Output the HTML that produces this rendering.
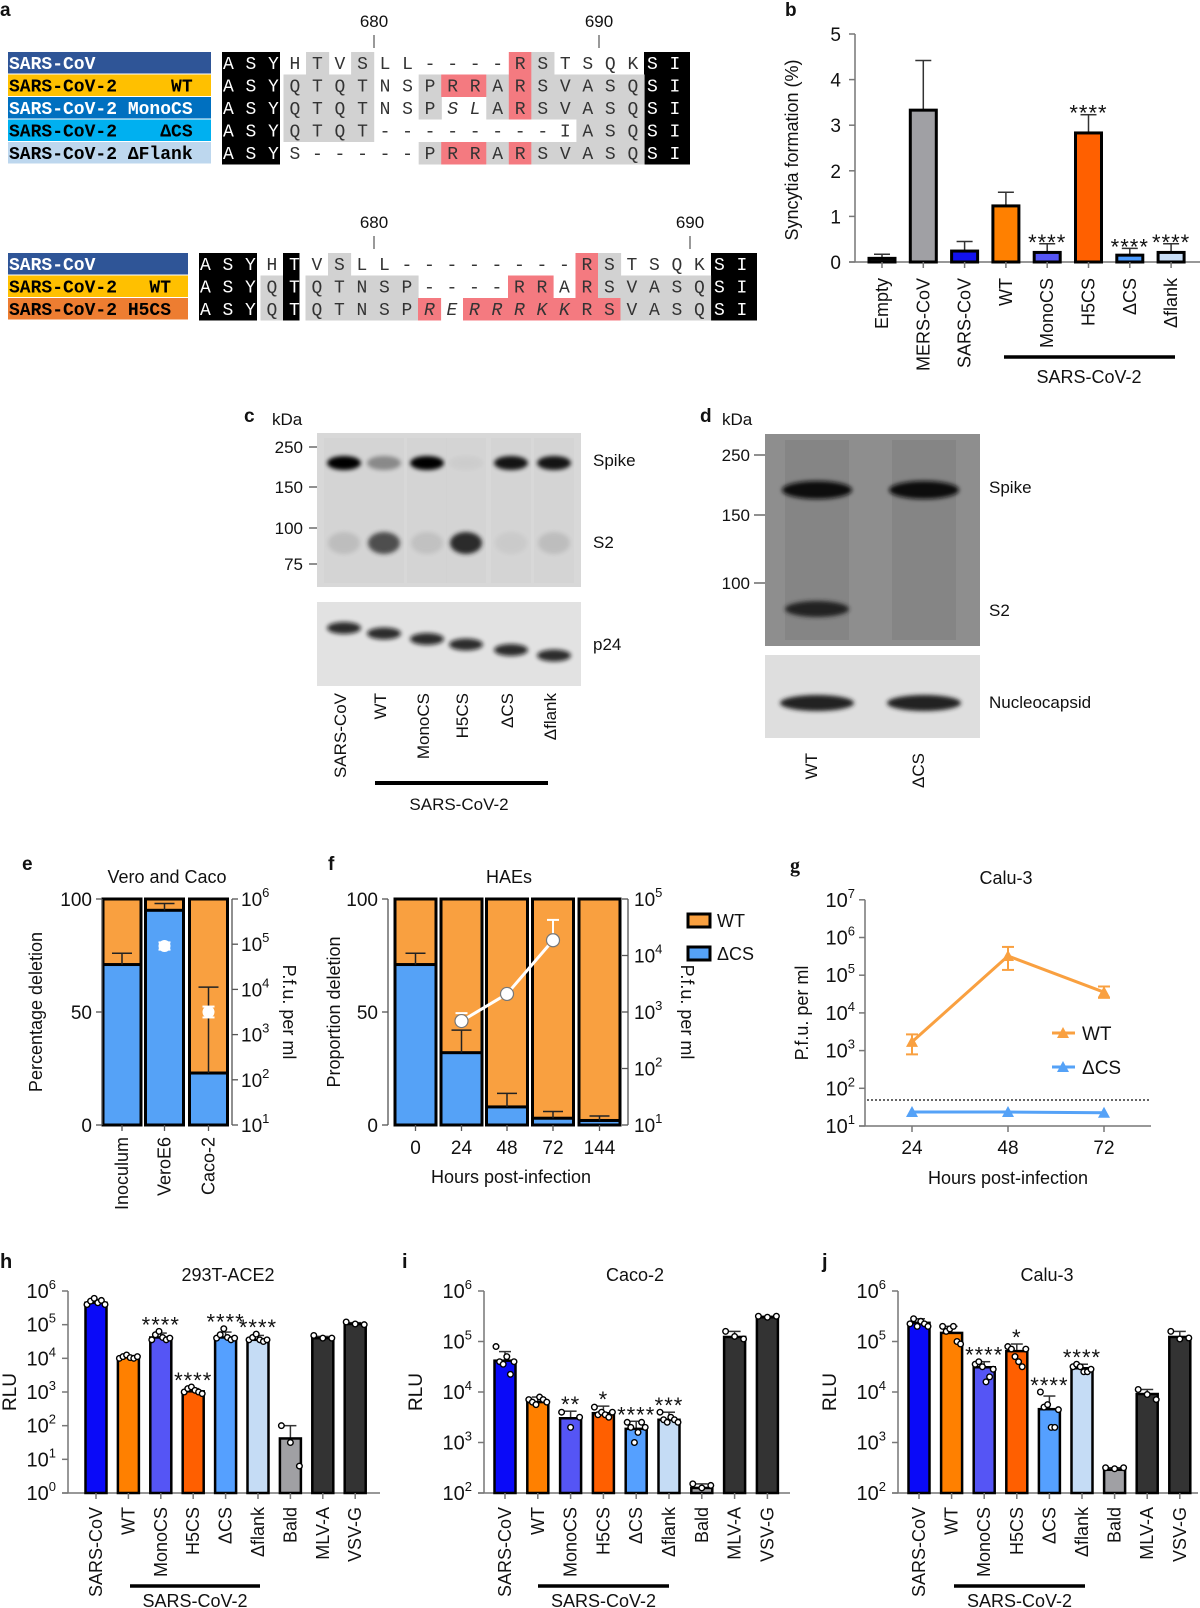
<!DOCTYPE html>
<html><head><meta charset="utf-8"><title>Figure</title>
<style>
html,body{margin:0;padding:0;background:#fff;}
svg{display:block;font-family:"Liberation Sans",Arial,sans-serif;}
.mono{font-family:"Liberation Mono","DejaVu Sans Mono",monospace;white-space:pre;}
.nar{font-family:"Liberation Sans Narrow","Liberation Sans",sans-serif;}
</style></head>
<body>
<svg id="fig" width="1200" height="1608" viewBox="0 0 1200 1608" xmlns="http://www.w3.org/2000/svg">
<defs>
<filter id="blur2" x="-50%" y="-100%" width="200%" height="300%"><feGaussianBlur stdDeviation="2.2"/></filter>
<filter id="blur4" x="-50%" y="-100%" width="200%" height="300%"><feGaussianBlur stdDeviation="4"/></filter>
</defs>
</svg>
<script>
// ---------- DATA ----------
// panel b
const bCats=['Empty','MERS-CoV','SARS-CoV','WT','MonoCS','H5CS','\u0394CS','\u0394flank'];
const bVals=[0.08,3.33,0.24,1.23,0.21,2.83,0.15,0.21];
const bErr=[0.17,4.42,0.45,1.53,0.40,3.23,0.30,0.40];
const bStars=['','','','','****','****','****','****'];
const bTicks=[0,1,2,3,4,5];
// panel e
const eCats=['Inoculum','VeroE6','Caco-2'];
const eDel=[71,95,23];
const eDelErr=[76,98,61];
const ePfu=[null,4.96,3.5];
const ePfuErr=[0,0.08,0.12];
// panel f
const fCats=['0','24','48','72','144'];
const fDel=[71,32,8,3,2];
const fDelErr=[76,42,14,6,4];
const fPfu=[null,2.84,3.32,4.27,null];
const fPfuHi=[null,2.98,3.38,4.63,null];
// panel g
const gX=[24,48,72];
const gWT=[3.23,5.51,4.55];
const gWTlo=[2.9,5.14,4.4];
const gWThi=[3.43,5.75,4.7];
const gCS=[1.37,1.37,1.35];
const gLOD=1.69;
// panels h,i,j (log10 RLU)
const rCats=['SARS-CoV','WT','MonoCS','H5CS','\u0394CS','\u0394flank','Bald','MLV-A','VSV-G'];
const hVals=[5.65,4.03,4.62,3.02,4.62,4.55,1.62,4.6,5.02];
const hErr=[5.75,4.08,4.75,3.1,4.78,4.68,2.0,4.65,5.06];
const hStars=['','','****','****','****','****','','',''];
const hPts=[[5.6,5.7,5.78,5.65,5.72,5.6],[4.0,4.05,4.1,4.02,4.0,4.05],[4.55,4.7,4.8,4.62,4.55,4.6],[3.0,3.1,3.15,3.05,3.0,2.95],[4.6,4.7,4.88,4.62,4.55,4.6],[4.55,4.62,4.72,4.55,4.5,4.55],[2.0,1.5,0.8],[4.68,4.6,4.6],[5.08,5.02,5.0]];
const iVals=[4.62,3.8,3.48,3.58,3.27,3.45,2.1,5.09,5.48];
const iErr=[4.8,3.9,3.62,3.72,3.42,3.6,2.18,5.2,5.5];
const iStars=['','','**','*','****','***','','',''];
const iPts=[[4.9,4.6,4.55,4.7,4.35,4.6],[3.85,3.8,3.75,3.9,3.85,3.8],[3.6,3.3,3.5],[3.7,3.55,3.6,3.55,3.5,3.6],[3.4,3.3,3.0,3.2,3.4,3.3],[3.6,3.45,3.4,3.5,3.45,3.4],[2.18,2.1,2.15],[5.2,5.1,5.05],[5.5,5.48,5.5]];
const jVals=[5.37,5.17,4.49,4.81,3.66,4.47,2.46,3.96,5.09];
const jErr=[5.45,5.3,4.6,4.95,3.92,4.55,2.5,4.05,5.2];
const jStars=['','','****','*','****','****','','',''];
const jPts=[[5.35,5.45,5.3,5.4,5.35,5.3],[5.3,5.2,5.25,5.3,5.0,4.95],[4.55,4.6,4.5,4.2,4.3,4.45],[4.9,4.85,4.7,4.6,4.5,4.85],[4.0,3.7,3.75,3.3,3.3,3.65],[4.5,4.55,4.5,4.4,4.4,4.45],[2.5,2.48,2.5],[4.05,3.95,3.85],[5.2,5.05,5.07]];
const rColors=['#0a0af8','#ff8000','#5555f5','#ff5f00','#55a0ff','#c5dcf5','#a0a0a4','#333333','#333333'];

// ---------- HELPERS ----------
const NS='http://www.w3.org/2000/svg';
const svg=document.getElementById('fig');
function mk(tag,a,p){const e=document.createElementNS(NS,tag);for(const k in a)e.setAttribute(k,a[k]);(p||svg).appendChild(e);return e;}
function tx(x,y,s,a,p){const e=mk('text',Object.assign({x:x,y:y,'font-size':17,fill:'#111'},a||{}),p);e.textContent=s;return e;}
function grp(p){return mk('g',{},p);}
function logLbl(x,y,ex,p,cls){const t=mk('text',{x:x,y:y+7,'text-anchor':'end','font-size':20,fill:'#111'},p);if(cls)t.setAttribute('class',cls);t.appendChild(document.createTextNode('10'));const s=mk('tspan',{dy:-9,'font-size':13},t);s.textContent=ex;return t;}
function logLblL(x,y,ex,p,cls){const t=mk('text',{x:x,y:y+7,'text-anchor':'start','font-size':19,fill:'#111'},p);if(cls)t.setAttribute('class',cls);t.appendChild(document.createTextNode('10'));const s=mk('tspan',{dy:-9,'font-size':13},t);s.textContent=ex;return t;}
function vlab(x,yTop,s,p,fs){const t=mk('text',{x:x+6,y:yTop,'text-anchor':'end','font-size':fs||17,fill:'#111',transform:'rotate(-90 '+(x+6)+' '+yTop+')'},p);t.textContent=s;return t;}
function plabel(x,y,s){const t=tx(x,y,s,{'font-size':19,'font-weight':'bold'});return t;}

// ---------- PANEL A (alignment) ----------
(function(){
const g=grp();


plabel(0,16,'a');
function block(rows,labels,lblColors,lblText,lblW,tops,asyX,x0,dx,siX){
  rows.forEach(function(r,ri){
    const y=tops[ri],h=22.5;
    const lb=mk('rect',{x:8,y:y,width:lblW,height:h-1,fill:lblColors[ri]},g);
    
    
    const lt=tx(9,y+17,labels[ri],{'font-size':18,'font-weight':'bold',fill:lblText[ri]},g);
    lt.setAttribute('class','mono');
    mk('rect',{x:asyX,y:y,width:58,height:h,fill:'#000'},g);
    ['A','S','Y'].forEach(function(c,k){const t=tx(asyX+1+k*22.5,y+17,c,{'font-size':18,fill:'#fff'},g);t.setAttribute('class','mono');});
    mk('rect',{x:siX,y:y,width:46,height:h,fill:'#000'},g);
    ['S','I'].forEach(function(c,k){const t=tx(siX+3+k*22.5,y+17,c,{'font-size':18,fill:'#fff'},g);t.setAttribute('class','mono');});
    for(let k=0;k<r.s.length;k++){
      const cx=x0+k*dx, sh=r.sh[k];
      if(sh==='g')mk('rect',{x:cx-11.5,y:y,width:dx+0.6,height:h,fill:'#d2d2d2'},g);
      if(sh==='p')mk('rect',{x:cx-11.5,y:y,width:dx+0.6,height:h,fill:'#f47a80'},g);
      if(sh==='k')mk('rect',{x:cx-11.5,y:y,width:dx-6,height:h,fill:'#000'},g);
      const it=r.it&&r.it.indexOf(k)>=0;
      const t=tx(cx-5.5,y+17,r.s[k],{'font-size':18,fill:sh==='k'?'#fff':'#333','font-style':it?'italic':'normal'},g);
      t.setAttribute('class','mono');
    }
  });
}
block([
 {s:'HTVSLL----RSTSQK',sh:' g g      pg    '},
 {s:'QTQTNSPRRARSVASQ',sh:'gggg  gppgpggggg'},
 {s:'QTQTNSPSLARSVASQ',sh:'gggg  g  gpggggg',it:[7,8]},
 {s:'QTQT--------IASQ',sh:'gggg         ggg'},
 {s:'S-----PRRARSVASQ',sh:'      gppgpggggg'}
],['SARS-CoV','SARS-CoV-2     WT','SARS-CoV-2 MonoCS','SARS-CoV-2    \u0394CS','SARS-CoV-2 \u0394Flank'],
['#2f5597','#ffc000','#0070c0','#00b0f0','#bdd7ee'],['#fff','#000','#fff','#000','#000'],203,[52,74.5,97,119.5,142],222,295,22.53,644);
block([
 {s:'HTVSLL--------RSTSQK',sh:' k g          pg    '},
 {s:'QTQTNSP----RRARSVASQ',sh:'gkggggg    pp pggggg'},
 {s:'QTQTNSPRERRRKKRSVASQ',sh:'gkgggggp pppppppggggg',it:[7,8,9,10,11,12,13]}
],['SARS-CoV','SARS-CoV-2   WT','SARS-CoV-2 H5CS'],['#2f5597','#ffc000','#ed7d31'],['#fff','#000','#000'],180,[253,275.5,298],199,272,22.5,711);
[[374,21,35],[599,21,35],[374,222,236],[690,222,236]].forEach(function(p,i){
  const lab=['680','690','680','690'][i];
  const t=tx(p[0],p[1]+6,lab,{'text-anchor':'middle','font-size':17},g);
  
  
  mk('line',{x1:p[0],x2:p[0],y1:p[2],y2:p[2]+13,stroke:'#555','stroke-width':1.2},g);
});
})();

// ---------- PANEL B ----------
(function(){
const g=grp();


plabel(785,16,'b');
const X0=855,Y0=262,ppu=45.6;
const by=v=>Y0-v*ppu, bx=i=>882+i*41.3;
mk('line',{x1:X0,x2:X0,y1:by(5),y2:Y0,stroke:'#777','stroke-width':1.5},g);
mk('line',{x1:X0-6,x2:1200,y1:Y0,y2:Y0,stroke:'#777','stroke-width':1.5},g);
bTicks.forEach(function(t){
  mk('line',{x1:X0-6,x2:X0,y1:by(t),y2:by(t),stroke:'#777','stroke-width':1.5},g);
  const l=tx(X0-14,by(t)+7,String(t),{'text-anchor':'end','font-size':19},g);
  
  
});
const yl=tx(0,0,'Syncytia formation (%)',{'text-anchor':'middle','font-size':18,transform:'translate(798 150) rotate(-90)'},g);


const cols=['#111','#a0a0a4','#1212ee','#ff8000','#5555f5','#ff6000','#4c9cff','#c8ddf5'];
bCats.forEach(function(c,i){
  const x=bx(i);
  mk('line',{x1:x,x2:x,y1:by(bVals[i]),y2:by(bErr[i]),stroke:'#333','stroke-width':1.5},g);
  mk('line',{x1:x-8,x2:x+8,y1:by(bErr[i]),y2:by(bErr[i]),stroke:'#333','stroke-width':1.5},g);
  const r=mk('rect',{x:x-13,y:by(bVals[i]),width:26,height:Math.max(1,bVals[i]*ppu),fill:cols[i],stroke:'#000','stroke-width':3},g);
  
  
  mk('line',{x1:x,x2:x,y1:Y0,y2:Y0+6,stroke:'#777','stroke-width':1.5},g);
  const l=vlab(x,278,c,g,18);
  
  
  if(bStars[i]){const s=tx(x,by(bErr[i])+6,bStars[i],{'text-anchor':'middle','font-size':22,'letter-spacing':1},g);
    
    }
});
mk('line',{x1:1004,x2:1175,y1:357,y2:357,stroke:'#000','stroke-width':3.5},g);
const gl=tx(1089,383,'SARS-CoV-2',{'text-anchor':'middle','font-size':18},g);


})();

// ---------- PANEL C (blot) ----------
(function(){
const g=grp();


const c=tx(244,422,'c',{'font-size':19,'font-weight':'bold'},g);


tx(272,425,'kDa',{'font-size':17},g);
mk('rect',{x:317,y:433,width:264,height:154,fill:'#d8d8d8'},g);
mk('rect',{x:317,y:602,width:264,height:84,fill:'#e2e2e2'},g);
[['250',447],['150',487],['100',528],['75',564]].forEach(function(t){
  mk('line',{x1:309,x2:317,y1:t[1],y2:t[1],stroke:'#555','stroke-width':1.3},g);
  tx(303,t[1]+6,t[0],{'text-anchor':'end','font-size':17},g);
});
const lanes=[344,384,427,466,511,554];
const spike=[1,0.35,1,0.03,0.9,0.9], s2=[0.12,0.75,0.1,0.95,0.05,0.12];
lanes.forEach(function(x,i){
  mk('rect',{x:x-20,y:438,width:40,height:145,fill:'#cfcfcf',opacity:0.5},g);
  mk('ellipse',{cx:x,cy:463,rx:17,ry:7,fill:'#000',opacity:spike[i],filter:'url(#blur2)'},g);
  mk('ellipse',{cx:x,cy:543,rx:16,ry:11,fill:'#222',opacity:s2[i],filter:'url(#blur2)'},g);
  mk('ellipse',{cx:x,cy:628+i*5.5,rx:17,ry:6,fill:'#111',opacity:0.85,filter:'url(#blur2)'},g);
  const l=vlab(x-4,693,['SARS-CoV','WT','MonoCS','H5CS','\u0394CS','\u0394flank'][i],g,17);
  
  
});
tx(593,466,'Spike',{'font-size':17},g);
tx(593,548,'S2',{'font-size':17},g);
tx(593,650,'p24',{'font-size':17},g);
mk('line',{x1:375,x2:548,y1:783,y2:783,stroke:'#000','stroke-width':4},g);
tx(459,810,'SARS-CoV-2',{'text-anchor':'middle','font-size':17},g);
})();

// ---------- PANEL D (blot) ----------
(function(){
const g=grp();


const d=tx(700,422,'d',{'font-size':19,'font-weight':'bold'},g);


tx(722,425,'kDa',{'font-size':17},g);
mk('rect',{x:765,y:434,width:215,height:212,fill:'#8e8e8e'},g);
mk('rect',{x:765,y:655,width:215,height:83,fill:'#dedede'},g);
[['250',455],['150',515],['100',583]].forEach(function(t){
  mk('line',{x1:754,x2:765,y1:t[1],y2:t[1],stroke:'#555','stroke-width':1.3},g);
  tx(750,t[1]+6,t[0],{'text-anchor':'end','font-size':17},g);
});
[817,924].forEach(function(x,i){
  mk('rect',{x:x-32,y:440,width:64,height:200,fill:'#7e7e7e',opacity:0.6},g);
  mk('ellipse',{cx:x,cy:490,rx:35,ry:9,fill:'#111',filter:'url(#blur2)'},g);
  if(i===0)mk('ellipse',{cx:x,cy:609,rx:32,ry:8,fill:'#222',filter:'url(#blur2)'},g);
  mk('ellipse',{cx:x,cy:703,rx:37,ry:8,fill:'#222',filter:'url(#blur2)'},g);
  const l=vlab(x-6,753,['WT','\u0394CS'][i],g,17);
  
  
});
tx(989,493,'Spike',{'font-size':17},g);
tx(989,616,'S2',{'font-size':17},g);
tx(989,708,'Nucleocapsid',{'font-size':17},g);
})();

// ---------- PANEL E ----------
const ORG='#f9a040', BLU='#55a2f7';
(function(){
const g=grp();


const p=tx(22,870,'e',{'font-size':19,'font-weight':'bold'},g);


const t=tx(167,883,'Vero and Caco',{'text-anchor':'middle','font-size':18},g);t.setAttribute('class','nar');
const Y0=1125,ppp=2.26, ey=v=>Y0-v*ppp, ely=e=>Y0-(e-1)*45.2;
const xs=[122,164.5,208.5];
eCats.forEach(function(c,i){
  const x=xs[i];
  const r1=mk('rect',{x:x-19,y:ey(100),width:38,height:100*ppp,fill:ORG,stroke:'#000','stroke-width':3},g);
  
  
  const r2=mk('rect',{x:x-19,y:ey(eDel[i]),width:38,height:eDel[i]*ppp,fill:BLU,stroke:'#000','stroke-width':3},g);
  
  
  mk('line',{x1:x,x2:x,y1:ey(eDel[i]),y2:ey(eDelErr[i]),stroke:'#222','stroke-width':1.5},g);
  mk('line',{x1:x-10,x2:x+10,y1:ey(eDelErr[i]),y2:ey(eDelErr[i]),stroke:'#222','stroke-width':1.5},g);
  if(ePfu[i]!==null){
    mk('line',{x1:x,x2:x,y1:ely(ePfu[i]-ePfuErr[i]),y2:ely(ePfu[i]+ePfuErr[i]),stroke:'#fff','stroke-width':2},g);
    mk('line',{x1:x-6,x2:x+6,y1:ely(ePfu[i]-ePfuErr[i]),y2:ely(ePfu[i]-ePfuErr[i]),stroke:'#fff','stroke-width':2},g);
    mk('line',{x1:x-6,x2:x+6,y1:ely(ePfu[i]+ePfuErr[i]),y2:ely(ePfu[i]+ePfuErr[i]),stroke:'#fff','stroke-width':2},g);
    const c2=mk('circle',{cx:x,cy:ely(ePfu[i]),r:6,fill:'#fff'},g);
    
    
  }
  mk('line',{x1:x,x2:x,y1:Y0,y2:Y0+6,stroke:'#555','stroke-width':1.3},g);
  const l=vlab(x,1137,c,g,18);
  
  
});
mk('line',{x1:102,x2:102,y1:ey(100),y2:Y0,stroke:'#555','stroke-width':1.3},g);
[0,50,100].forEach(function(v){mk('line',{x1:96,x2:102,y1:ey(v),y2:ey(v),stroke:'#555','stroke-width':1.3},g);
  const l=tx(92,ey(v)+7,String(v),{'text-anchor':'end','font-size':19},g);l.setAttribute('class','nar');});
mk('line',{x1:232,x2:232,y1:ely(6),y2:Y0,stroke:'#555','stroke-width':1.3},g);
[1,2,3,4,5,6].forEach(function(e){mk('line',{x1:232,x2:238,y1:ely(e),y2:ely(e),stroke:'#555','stroke-width':1.3},g);logLblL(241,ely(e),String(e),g,'nar');});
const a=tx(0,0,'Percentage deletion',{'text-anchor':'middle','font-size':18,transform:'translate(42 1012) rotate(-90)'},g);


const b=tx(0,0,'P.f.u. per ml',{'text-anchor':'middle','font-size':18,transform:'translate(283 1012) rotate(90)'},g);


})();

// ---------- PANEL F ----------
(function(){
const g=grp();


const p=tx(328,870,'f',{'font-size':19,'font-weight':'bold'},g);


const t=tx(509,883,'HAEs',{'text-anchor':'middle','font-size':18},g);t.setAttribute('class','nar');
const Y0=1125,ppp=2.26, fy=v=>Y0-v*ppp, fly=e=>Y0-(e-1)*56.5;
const xs=[415.5,461.5,507,553,599.5];
fCats.forEach(function(c,i){
  const x=xs[i];
  const r1=mk('rect',{x:x-20.5,y:fy(100),width:41,height:100*ppp,fill:ORG,stroke:'#000','stroke-width':3},g);
  
  
  const r2=mk('rect',{x:x-20.5,y:fy(fDel[i]),width:41,height:fDel[i]*ppp,fill:BLU,stroke:'#000','stroke-width':3},g);
  
  
  mk('line',{x1:x,x2:x,y1:fy(fDel[i]),y2:fy(fDelErr[i]),stroke:'#222','stroke-width':1.5},g);
  mk('line',{x1:x-10,x2:x+10,y1:fy(fDelErr[i]),y2:fy(fDelErr[i]),stroke:'#222','stroke-width':1.5},g);
  mk('line',{x1:x,x2:x,y1:Y0,y2:Y0+6,stroke:'#555','stroke-width':1.3},g);
  const l=tx(x,1154,c,{'text-anchor':'middle','font-size':19},g);
  l.setAttribute('class','nar');
  
  
});
let pts=[];
fPfu.forEach(function(v,i){if(v!==null)pts.push([xs[i],fly(v),fly(fPfuHi[i])]);});
mk('polyline',{points:pts.map(q=>q[0]+','+q[1]).join(' '),fill:'none',stroke:'#fff','stroke-width':3},g);
pts.forEach(function(q){
  mk('line',{x1:q[0],x2:q[0],y1:q[1],y2:q[2],stroke:'#fff','stroke-width':2},g);
  mk('line',{x1:q[0]-6,x2:q[0]+6,y1:q[2],y2:q[2],stroke:'#fff','stroke-width':2},g);
  const c=mk('circle',{cx:q[0],cy:q[1],r:6.5,fill:'#fff',stroke:'#777','stroke-width':1.2},g);
  
  
});
mk('line',{x1:388,x2:388,y1:fy(100),y2:Y0,stroke:'#555','stroke-width':1.3},g);
[0,50,100].forEach(function(v){mk('line',{x1:382,x2:388,y1:fy(v),y2:fy(v),stroke:'#555','stroke-width':1.3},g);
  const l=tx(378,fy(v)+7,String(v),{'text-anchor':'end','font-size':19},g);l.setAttribute('class','nar');});
mk('line',{x1:628,x2:628,y1:fly(5),y2:Y0,stroke:'#555','stroke-width':1.3},g);
[1,2,3,4,5].forEach(function(e){mk('line',{x1:622,x2:628,y1:fly(e),y2:fly(e),stroke:'#555','stroke-width':1.3},g);logLblL(634,fly(e),String(e),g,'nar');});
const a=tx(0,0,'Proportion deletion',{'text-anchor':'middle','font-size':18,transform:'translate(340 1012) rotate(-90)'},g);


const b=tx(0,0,'P.f.u. per ml',{'text-anchor':'middle','font-size':18,transform:'translate(681 1012) rotate(90)'},g);


const xt=tx(511,1183,'Hours post-infection',{'text-anchor':'middle','font-size':18},g);


const l1=mk('rect',{x:688,y:914,width:22,height:13,fill:ORG,stroke:'#000','stroke-width':3},g);


const l2=mk('rect',{x:688,y:947,width:22,height:13,fill:BLU,stroke:'#000','stroke-width':3},g);


tx(717,927,'WT',{'font-size':18},g).setAttribute('class','nar');
tx(717,960,'\u0394CS',{'font-size':18},g).setAttribute('class','nar');
})();

// ---------- PANEL G ----------
(function(){
const g=grp();


const p=tx(790,872,'g',{'font-size':20,'font-weight':'bold','font-family':'Liberation Serif,serif'},g);


tx(1006,884,'Calu-3',{'text-anchor':'middle','font-size':18},g);
const X0=865,Y0=1126,pd=37.7;
const gy=e=>Y0-(e-1)*pd, gx=h=>912+(h-24)*4.0;
mk('line',{x1:X0,x2:X0,y1:gy(7),y2:Y0,stroke:'#777','stroke-width':1.5},g);
mk('line',{x1:X0-6,x2:1151,y1:Y0,y2:Y0,stroke:'#777','stroke-width':1.5},g);
for(let e=1;e<=7;e++){mk('line',{x1:X0-6,x2:X0,y1:gy(e),y2:gy(e),stroke:'#777','stroke-width':1.5},g);logLbl(855,gy(e),String(e),g);}
gX.forEach(function(h){mk('line',{x1:gx(h),x2:gx(h),y1:Y0,y2:Y0+6,stroke:'#777','stroke-width':1.5},g);
  const l=tx(gx(h),1154,String(h),{'text-anchor':'middle','font-size':19},g);
  
  });
const dl=mk('line',{x1:867,x2:1151,y1:gy(gLOD),y2:gy(gLOD),stroke:'#333','stroke-width':1.5,'stroke-dasharray':'2,2'},g);


const wl=mk('polyline',{points:gX.map((h,i)=>gx(h)+','+gy(gWT[i])).join(' '),fill:'none',stroke:'#f9a040','stroke-width':3},g);


const cl=mk('polyline',{points:gX.map((h,i)=>gx(h)+','+gy(gCS[i])).join(' '),fill:'none',stroke:'#55a2f7','stroke-width':3},g);


function tri(x,y,c){return mk('polygon',{points:(x-6)+','+(y+5)+' '+(x+6)+','+(y+5)+' '+x+','+(y-6),fill:c},g);}
gX.forEach(function(h,i){
  const x=gx(h);
  mk('line',{x1:x,x2:x,y1:gy(gWTlo[i]),y2:gy(gWThi[i]),stroke:'#f9a040','stroke-width':2},g);
  mk('line',{x1:x-6,x2:x+6,y1:gy(gWTlo[i]),y2:gy(gWTlo[i]),stroke:'#f9a040','stroke-width':2},g);
  mk('line',{x1:x-6,x2:x+6,y1:gy(gWThi[i]),y2:gy(gWThi[i]),stroke:'#f9a040','stroke-width':2},g);
  const a=tri(x,gy(gWT[i]),'#f9a040');
  
  
  const b=tri(x,gy(gCS[i]),'#55a2f7');
  
  
});
mk('line',{x1:1052,x2:1075,y1:1033,y2:1033,stroke:'#f9a040','stroke-width':3},g);tri(1063,1033,'#f9a040');
mk('line',{x1:1052,x2:1075,y1:1067,y2:1067,stroke:'#55a2f7','stroke-width':3},g);tri(1063,1067,'#55a2f7');
const lw=tx(1082,1040,'WT',{'font-size':19},g);


const lc=tx(1082,1074,'\u0394CS',{'font-size':19},g);


const a=tx(0,0,'P.f.u. per ml',{'text-anchor':'middle','font-size':18,transform:'translate(808 1013) rotate(-90)'},g);


const xt=tx(1008,1184,'Hours post-infection',{'text-anchor':'middle','font-size':18},g);


})();

// ---------- PANELS H, I, J ----------
function rluPanel(cfg,vals,errs,stars,pts){
  const g=grp();
  
  
  const p=tx(cfg.lx,1268,cfg.letter,{'font-size':20,'font-weight':'bold'},g);
  
  
  const tt=tx(cfg.tx,1281,cfg.title,{'text-anchor':'middle','font-size':18},g);
  
  
  const Y0=1493,Ytop=1291,pd=(Y0-Ytop)/(6-cfg.emin);
  const ry=v=>Y0-(v-cfg.emin)*pd, rx=i=>cfg.x1+i*cfg.dx;
  mk('line',{x1:cfg.ax,x2:cfg.ax,y1:Ytop,y2:Y0,stroke:'#777','stroke-width':1.5},g);
  mk('line',{x1:cfg.ax-6,x2:cfg.xend,y1:Y0,y2:Y0,stroke:'#777','stroke-width':1.5},g);
  for(let e=cfg.emin;e<=6;e++){mk('line',{x1:cfg.ax-6,x2:cfg.ax,y1:ry(e),y2:ry(e),stroke:'#777','stroke-width':1.5},g);logLbl(cfg.ax-12,ry(e),String(e),g);}
  const yl=tx(0,0,'RLU',{'text-anchor':'middle','font-size':19,transform:'translate('+cfg.ylx+' 1392) rotate(-90)'},g);
  
  
  rCats.forEach(function(c,i){
    const x=rx(i);
    mk('line',{x1:x,x2:x,y1:ry(vals[i]),y2:ry(errs[i]),stroke:'#333','stroke-width':1.5},g);
    mk('line',{x1:x-6,x2:x+6,y1:ry(errs[i]),y2:ry(errs[i]),stroke:'#333','stroke-width':1.5},g);
    const r=mk('rect',{x:x-10.5,y:ry(vals[i]),width:21,height:Y0-ry(vals[i]),fill:rColors[i],stroke:'#000','stroke-width':2.5},g);
    
    
    const n=pts[i].length;
    pts[i].forEach(function(v,k){
      const off=n===1?0:-9+18*k/(n-1);
      const d=mk('circle',{cx:x+off,cy:ry(v),r:2.8,fill:'#fff',stroke:'#000','stroke-width':1.4},g);
      
      
    });
    mk('line',{x1:x,x2:x,y1:Y0,y2:Y0+6,stroke:'#777','stroke-width':1.5},g);
    const l=vlab(x,1507,c,g,18);
    
    
    if(stars[i]){
      const topv=Math.max(errs[i],Math.max.apply(null,pts[i]));
      const s=tx(x,ry(topv)+1,stars[i],{'text-anchor':'middle','font-size':22,'letter-spacing':1},g);
      
      
    }
  });
  mk('line',{x1:cfg.u1,x2:cfg.u2,y1:1586,y2:1586,stroke:'#000','stroke-width':3.5},g);
  const gl=tx((cfg.u1+cfg.u2)/2,1607,'SARS-CoV-2',{'text-anchor':'middle','font-size':18},g);
  
  
}
rluPanel({name:'panel-h-293t-ace2-chart',letter:'h',lx:0,tx:228,title:'293T-ACE2',emin:0,ax:68,xend:380,x1:96,dx:32.4,ylx:16,u1:130,u2:260},hVals,hErr,hStars,hPts);
rluPanel({name:'panel-i-caco2-chart',letter:'i',lx:402,tx:635,title:'Caco-2',emin:2,ax:484,xend:790,x1:505,dx:32.8,ylx:422,u1:538,u2:669},iVals,iErr,iStars,iPts);
rluPanel({name:'panel-j-calu3-chart',letter:'j',lx:822,tx:1047,title:'Calu-3',emin:2,ax:898,xend:1198,x1:919,dx:32.6,ylx:836,u1:954,u2:1085},jVals,jErr,jStars,jPts);
</script>
</body></html>
